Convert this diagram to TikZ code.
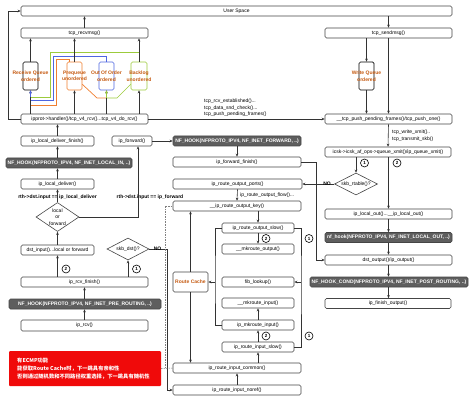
\documentclass[tikz,border=0pt]{standalone}
\usepackage{fontspec}
\setmainfont{Liberation Sans}
\newfontfamily\cjk{Noto Sans CJK SC}
\usetikzlibrary{shapes.geometric,arrows.meta}
\definecolor{bd}{HTML}{454545}
\definecolor{hookgray}{HTML}{5E5E5E}
\definecolor{lncol}{HTML}{333333}
\definecolor{qtxt}{HTML}{C55A11}
\definecolor{qblue}{HTML}{4F66E0}
\definecolor{qorange}{HTML}{F07F30}
\definecolor{qgreen}{HTML}{9CCB3C}
\definecolor{redbox}{HTML}{F00A0A}
\newcommand\tinyf{\fontsize{5}{6.6}\selectfont}
\begin{document}
\begin{tikzpicture}[x=1pt,y=-1pt,
  box/.style={draw=bd, fill=white, rounded corners=1.5pt, line width=0.6pt, inner sep=0pt, font=\tinyf, minimum height=10pt},
  dark/.style={box, fill=hookgray, text=white, font=\tinyf\bfseries},
  queue/.style={draw=#1, fill=white, rounded corners=1.5pt, line width=0.7pt, minimum width=15pt, minimum height=28pt, inner sep=0pt},
  qtext/.style={font=\tinyf\bfseries, text=qtxt, align=center, inner sep=0pt},
  arr/.style={-{Stealth[length=3pt,width=2.6pt]}, line width=0.6pt, draw=lncol},
  plain/.style={line width=0.6pt, draw=lncol},
  dia/.style={diamond, draw=bd, fill=white, line width=0.6pt, inner sep=0pt},
  num/.style={circle, draw=black, line width=0.6pt, minimum size=8pt, inner sep=0pt, fill=white, font=\fontsize{4.5}{5}\selectfont\bfseries},
  lbl/.style={font=\tinyf\bfseries, inner sep=0pt},
  txt/.style={font=\tinyf, inner sep=0pt},
  dsh/.style={dash pattern=on 1.5pt off 1pt, draw=gray, line width=0.5pt},
  cl/.style={line width=0.7pt, draw=#1}
]
\useasboundingbox (0,0) rectangle (474,401);

% ---------- top ----------
\node[box, minimum width=431pt] (user) at (236.5,11) {User Space};
\node[box, minimum width=127pt] (recvmsg) at (84.5,33) {tcp\_recvmsg()};
\node[box, minimum width=127pt] (sendmsg) at (388.5,33) {tcp\_sendmsg()};

% queues
\node[queue=black] (rq) at (30.5,76) {};
\node[queue=qorange] (pq) at (74.5,76) {};
\node[queue=qblue] (ooo) at (106.5,76) {};
\node[queue=qgreen, minimum width=16pt] (bl) at (139,76) {};
\node[queue=black] (wq) at (366.5,76) {};

\node[box, minimum width=127pt] (ipprot) at (84.5,119) {ipprot->handler()/tcp\_v4\_rcv()...tcp\_v4\_do\_rcv()};
\node[box, minimum width=127pt] (push) at (388.5,119) {\_\_tcp\_push\_pending\_frames()/tcp\_push\_one()};

% colored queue connections
\draw[cl=qgreen] (bl.north) -- (139,52) -- (50,52) -- (50,97.5) -- (30.5,97.5);
\draw[cl=qorange] (69,62) -- (69,59) -- (56,59) -- (56,105) -- (30.5,105);
\draw[cl=qblue] (ooo.north) -- (106.5,56) -- (53,56) -- (53,100.5) -- (30.5,100.5);
\draw[cl=qorange] (pq.south east) ++(0,-6) -- (97,98) -- (106.5,98);
\draw[cl=qgreen] (bl.south west) ++(0,-6) -- (117,98) -- (106.5,98);

% black arrows around queues
\draw[arr] (recvmsg.north) -- (recvmsg.north |- user.south);
\draw[arr] (sendmsg.north |- user.south) -- (sendmsg.north);
\draw[arr] (ipprot.west) -- ++(-12,0) |- (user.west);
\draw[arr] (rq.north) -- (rq.north |- recvmsg.south);
\draw[arr] (pq.north) -- (pq.north |- recvmsg.south);
\draw[arr] (bl.north) -- (bl.north |- recvmsg.south);
\draw[arr] (rq.south |- ipprot.north) -- (rq.south);
\draw[arr] (pq.south |- ipprot.north) -- (pq.south);
\draw[arr] (ooo.south |- ipprot.north) -- (ooo.south);
\draw[arr] (bl.south |- ipprot.north) -- (bl.south);
\draw[arr, draw=qblue] (30.5,97.5) -- (rq.south);
\draw[arr, draw=qgreen] (106.5,98) -- (ooo.south);

\node[qtext] (rqt) at (rq) {Receive Queue\\ordered};
\node[qtext] (pqt) at (pq) {Prequeue\\unordered};
\node[qtext] (ooot) at (ooo) {Out Of Order\\ordered};
\node[qtext] (blt) at (bl) {Backlog\\unordered};
\node[qtext] (wqt) at (wq) {Write Queue\\ordered};

\draw[arr] (wq.north |- sendmsg.south) -- (wq.north);
\draw[arr] (wq.south) -- (wq.south |- push.north);
\draw[arr] (sendmsg.south) -- (push.north);

\draw[arr] (ipprot.east) -- (push.west);
\node[txt, anchor=south west, align=left] (rcvtxt) at (204,117) {tcp\_rcv\_established()...\\tcp\_data\_snd\_check()...\\tcp\_push\_pending\_frames()};

% ---------- output path ----------
\node[box, minimum width=126pt] (icsk) at (388,152) {icsk->icsk\_af\_ops->queue\_xmit()/ip\_queue\_xmit()};
\draw[arr] (push.south) -- (icsk.north);
\node[txt, anchor=west, align=left] (xmittxt) at (392,135.5) {tcp\_write\_xmit()..\\tcp\_transmit\_skb()};

\node[dia, minimum width=43pt, minimum height=22pt] (skbrt) at (356,184) {};
\node[txt] (skbrtt) at (skbrt) {skb\_rtable()?};
\draw[arr] (skbrt.north |- icsk.south) -- (skbrt.north);
\node[num] (n1a) at (364.5,163) {1};

\node[box, minimum width=127pt] (localout) at (388.5,214) {ip\_local\_out()...\_\_ip\_local\_out()};
\draw[arr] (localout.north |- icsk.south) -- (localout.north);
\node[num] (n2a) at (397,163) {2};
\node[dark, minimum width=127pt] (nflocalout) at (388.5,237.5) {nf\_hook(NFPROTO\_IPV4, NF\_INET\_LOCAL\_OUT, ..)};
\node[box, minimum width=127pt] (dstout) at (388.5,260) {dst\_output()/ip\_output()};
\node[dark, minimum width=158pt] (nfpost) at (389,282) {NF\_HOOK\_COND(NFPROTO\_IPV4, NF\_INET\_POST\_ROUTING, ..)};
\node[box, minimum width=126pt] (finout) at (388,303.5) {ip\_finish\_output()};
\draw[arr] (localout.south) -- (nflocalout.north);
\draw[arr] (nflocalout.south) -- (dstout.north);
\draw[arr] (dstout.south) -- (dstout.south |- nfpost.north);
\draw[arr] (dstout.south |- nfpost.south) -- (dstout.south |- finout.north);

% ---------- left (input) column ----------
\node[box, minimum width=73pt] (ldf) at (57.5,141) {ip\_local\_deliver\_finish()};
\node[box, minimum width=40pt] (fwd) at (132,141) {ip\_forward()};
\node[dark, minimum width=128pt] (nffwd) at (237,141) {NF\_HOOK(NFPROTO\_IPV4, NF\_INET\_FORWARD, ..)};
\node[dark, minimum width=126pt] (nflocalin) at (69,163) {NF\_HOOK(NFPROTO\_IPV4, NF\_INET\_LOCAL\_IN, ..)};
\node[box, minimum width=128pt] (fwdfin) at (237,162) {ip\_forward\_finish()};
\node[box, minimum width=73pt] (ld) at (57.5,184) {ip\_local\_deliver()};

\draw[arr] (ldf.north) -- (ldf.north |- ipprot.south);
\draw[arr] (ldf.south |- nflocalin.north) -- (ldf.south);
\draw[arr] (ld.north) -- (ld.north |- nflocalin.south);
\draw[arr] (fwd.east) -- (nffwd.west);
\draw[arr] (nffwd.south) -- (fwdfin.north);

\node[lbl] (lbl1) at (57.5,197) {rth->dst.input == ip\_local\_deliver};
\node[lbl] (lbl2) at (150,197) {rth->dst.input == ip\_forward};

\node[dia, minimum width=43pt, minimum height=29pt] (lof) at (57.5,217) {};
\node[txt, align=center] (loft) at (lof) {local\\or\\forward};
\draw[arr] (lof.north) -- (ld.south);
\draw[arr] (lof.east) -| ([xshift=6pt]fwd.south);

\node[box, minimum width=73pt] (dstin) at (57.5,250) {dst\_input()...local or forward};
\draw[arr] (dstin.north) -- (lof.south);

\node[dia, minimum width=42pt, minimum height=22pt] (skbdst) at (128,249) {};
\node[txt] (skbdstt) at (skbdst) {skb\_dst()?};

\node[box, minimum width=127pt] (rcvfin) at (84.5,282) {ip\_rcv\_finish()};
\node[dark, minimum width=152pt] (nfpre) at (85,304) {NF\_HOOK(NFPROTO\_IPV4, NF\_INET\_PRE\_ROUTING, ..)};
\node[box, minimum width=127pt, minimum height=11pt] (iprcv) at (84.5,325.5) {ip\_rcv()};

\draw[arr] (dstin.south |- rcvfin.north) -- (dstin.south);
\node[num] (n2b) at (66,269) {2};
\draw[arr] (skbdst.south |- rcvfin.north) -- (skbdst.south);
\node[num] (n1b) at (136.5,269) {1};
\draw[arr] (rcvfin.south |- nfpre.north) -- (rcvfin.south);
\draw[arr] (iprcv.north) -- (iprcv.north |- nfpre.south);

% red note
\node[fill=redbox, rounded corners=1pt, minimum width=152pt, minimum height=35pt, inner sep=0pt] (red) at (85,368.5) {};
\node[anchor=west, align=left, text=white, inner sep=0pt, font=\cjk\fontsize{5.3}{8}\selectfont\bfseries] (redt) at (17,368.5) {有ECMP功能\\能获取Route Cache时，下一跳具有亲和性\\否则通过随机数和不同路径权重选择，下一跳具有随机性};

% ---------- routing ----------
\node[box, minimum width=129pt] (outports) at (237.5,184) {ip\_route\_output\_ports()};
\node[box, minimum width=128pt] (outkey) at (237,206) {\_\_ip\_route\_output\_key()};
\node[box, minimum width=72pt] (outslow) at (258,228) {ip\_route\_output\_slow()};
\node[box, minimum width=72pt] (mkout) at (258,249) {\_\_mkroute\_output()};
\node[box, minimum width=35pt, minimum height=20pt, font=\tinyf\bfseries, text=qtxt] (rc) at (190.5,282) {Route Cache};
\node[box, minimum width=72pt] (fib) at (258,282) {fib\_lookup()};
\node[box, minimum width=72pt] (mkin) at (258,303) {\_\_mkroute\_input()};
\node[box, minimum width=72pt] (ipmkin) at (258,325) {ip\_mkroute\_input()};
\node[box, minimum width=72pt] (inslow) at (258,347) {ip\_route\_input\_slow()};
\node[box, minimum width=128pt] (incommon) at (237,368) {ip\_route\_input\_common()};
\node[box, minimum width=128pt] (innoref) at (237,390) {ip\_route\_input\_noref()};

\draw[arr] (fwdfin.east) -- (316,162) |- (dstout.west);
\draw[arr] (skbrt.west) -- (outports.east);
\node[lbl] (no1) at (327,184) {NO};
\draw[arr] (skbdst.east) -- (167,249) |- (innoref.west);
\node[lbl] (no2) at (157.5,249) {NO};

\draw[arr] (outports.south) -- (outkey.north);
\node[txt, anchor=west] (flowtxt) at (240,195.5) {ip\_route\_output\_flow()...};
\draw[arr] (outslow.north |- outkey.south) -- (outslow.north);
\draw[arr] (rc.north) -- (rc.north |- outkey.south);
\draw[arr] (rc.south) -- (rc.south |- incommon.north);
\draw[arr] (outslow.south) -- (mkout.north);
\node[num] (n2c) at (266,238.5) {2};

\coordinate (j1) at (301,282);
\draw[plain] (outslow.east) -| (j1) |- (inslow.east);
\draw[arr] (j1) -- (fib.east);
\node[num] (n1c) at (309,238.5) {1};
\node[num] (n1d) at (309,336) {1};

\coordinate (j2) at (215,282);
\draw[plain] (outslow.west) -| (j2) |- (ipmkin.west);
\draw[arr] (j2) -- (rc.east);

\draw[arr] (ipmkin.north) -- (mkin.south);
\draw[arr] (inslow.north) -- (ipmkin.south);
\node[num] (n2d) at (266,336) {2};
\draw[arr] (inslow.south |- incommon.north) -- (inslow.south);
\draw[arr] (innoref.north) -- (incommon.south);

\coordinate (d1) at (165,368);
\draw[dsh] (red.east) -- (incommon.west);
\draw[dsh] (d1) |- (outkey.west);
\end{tikzpicture}
\end{document}
